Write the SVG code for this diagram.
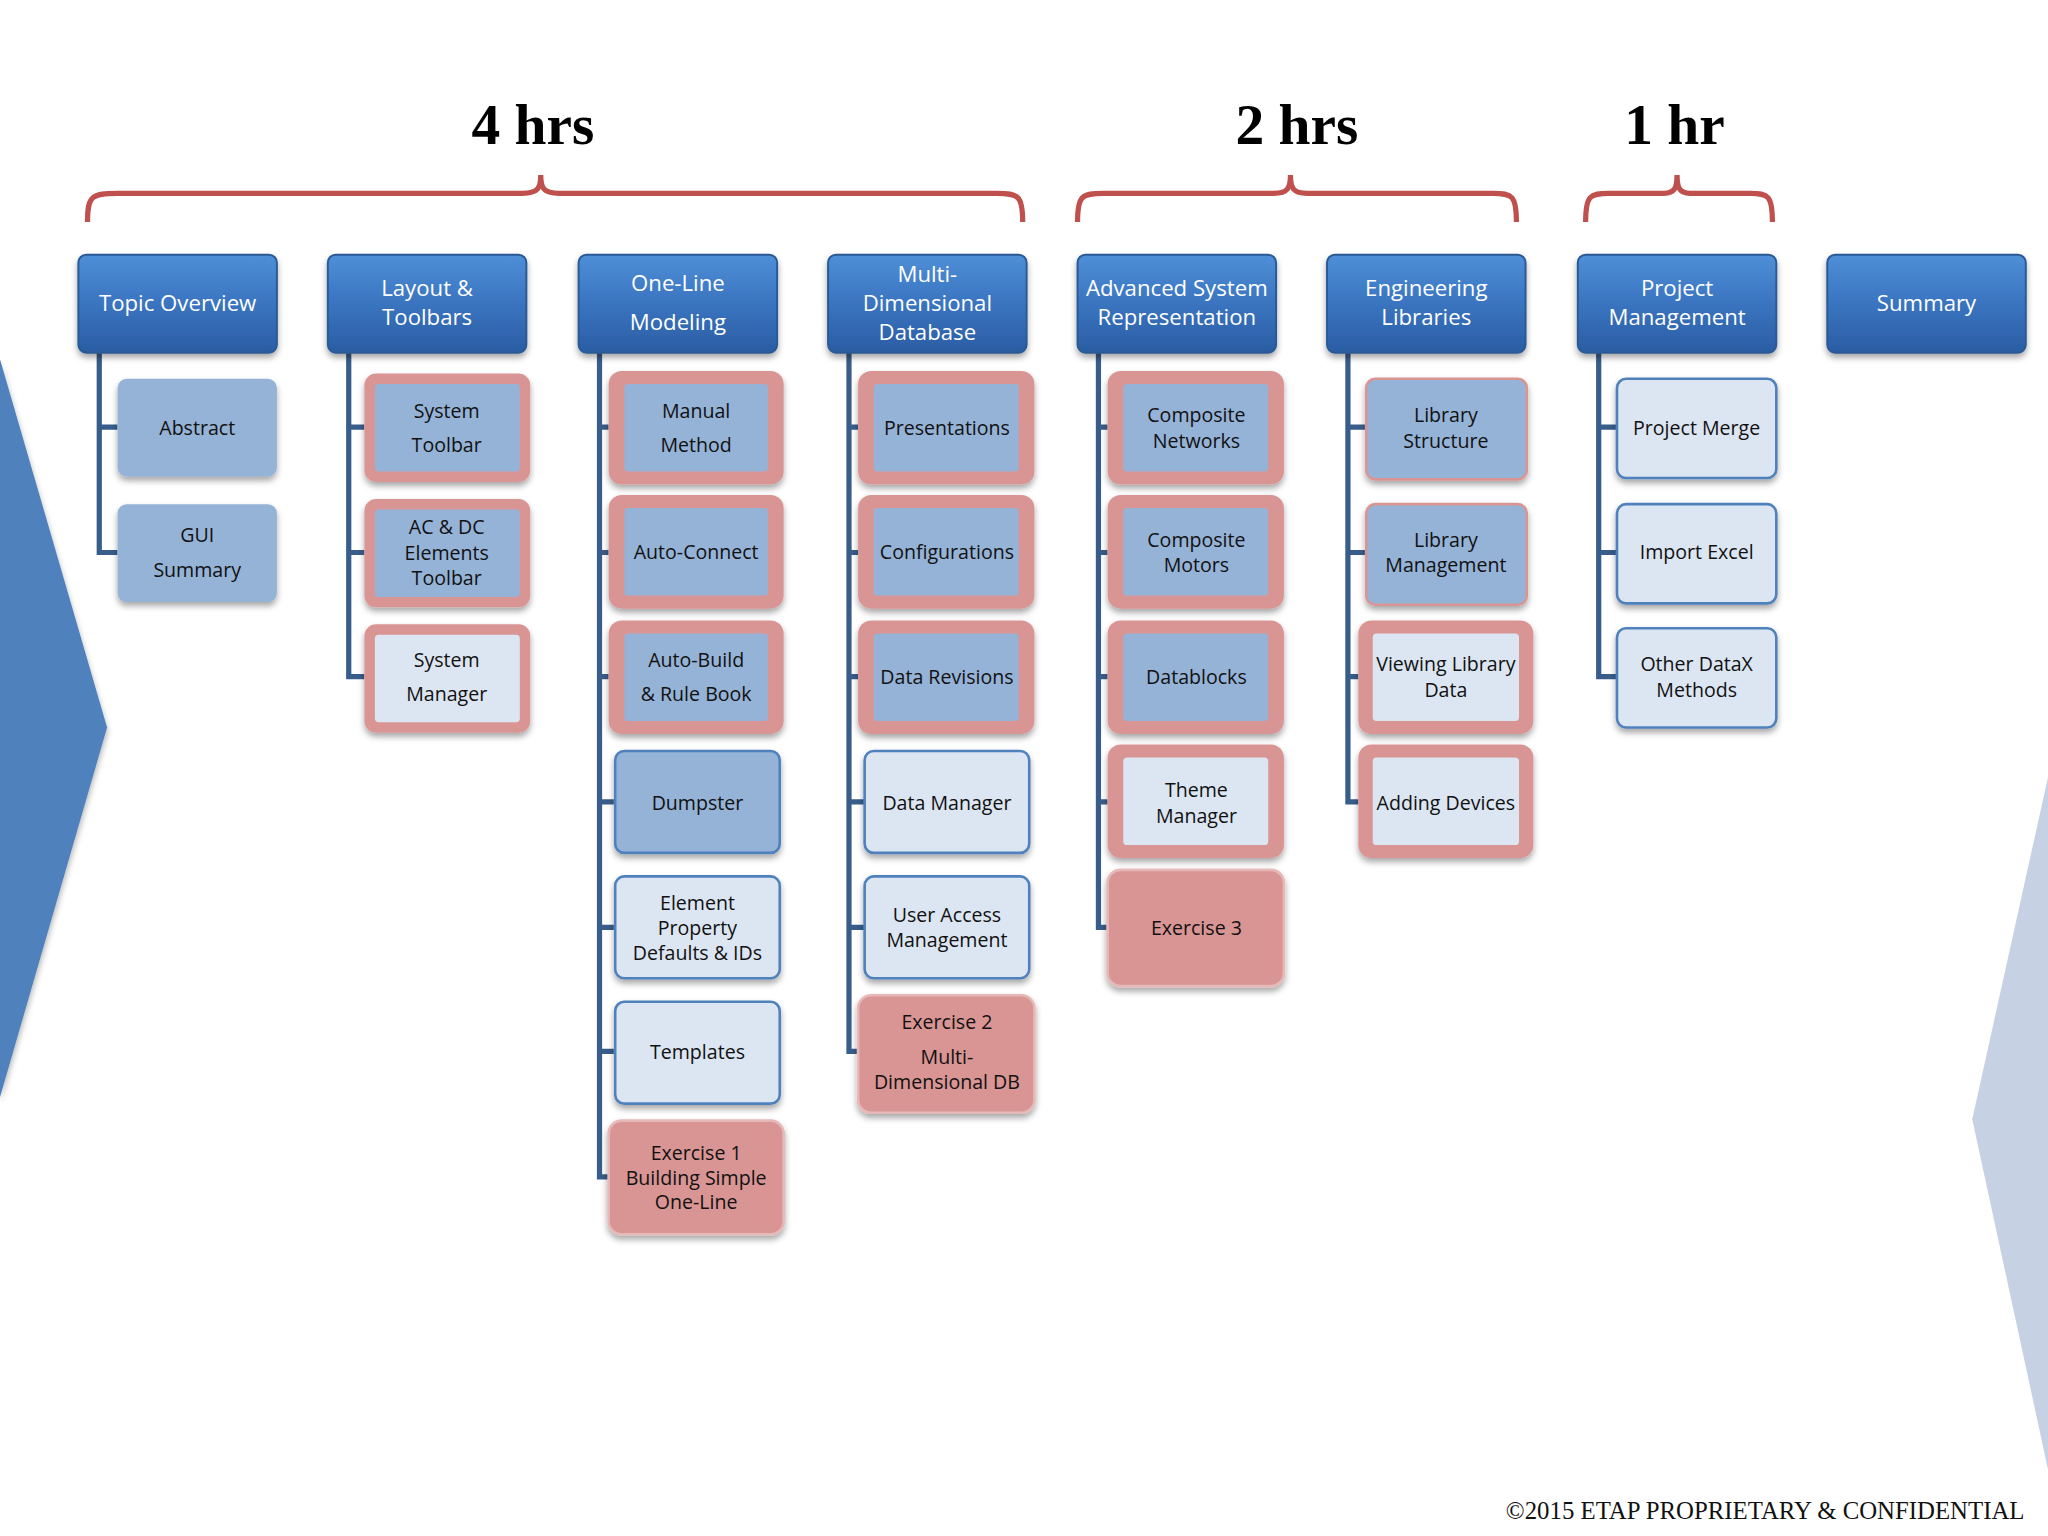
<svg xmlns="http://www.w3.org/2000/svg" width="2048" height="1536" viewBox="0 0 2048 1536">
<defs>
<linearGradient id="hg" x1="0" y1="0" x2="0" y2="1"><stop offset="0" stop-color="#4f8fd8"/><stop offset="0.5" stop-color="#3a74c0"/><stop offset="1" stop-color="#2a5da3"/></linearGradient>
<filter id="sh" x="-20%" y="-20%" width="140%" height="150%"><feDropShadow dx="0" dy="3" stdDeviation="2.5" flood-color="#000" flood-opacity="0.35"/></filter>
<style>
.hd{fill:url(#hg);stroke:#2b5a95;stroke-width:1.5;filter:url(#sh)}
.ht{font-family:"Open Sans",sans-serif;font-size:17px;fill:#fff;text-anchor:middle}
.ct{font-family:"Open Sans",sans-serif;font-size:15px;fill:#111;text-anchor:middle}
.pb{fill:#95b3d7;filter:url(#sh)}
.po{fill:#d99594;filter:url(#sh)}
.pi{fill:#95b3d7}
.pl{fill:#dce6f2}
.lb{fill:#dce6f2;stroke:#4f81bd;stroke-width:2;filter:url(#sh)}
.bb{fill:#95b3d7;stroke:#4f81bd;stroke-width:2;filter:url(#sh)}
.ex{fill:#d99594;stroke:#e6b9b8;stroke-width:2;filter:url(#sh)}
.cn{fill:none;stroke:#385d8a;stroke-width:4}
.br{fill:none;stroke:#c0504d;stroke-width:4}
.tt{font-family:"Liberation Serif",serif;font-weight:bold;font-size:44px;fill:#000;text-anchor:middle}
</style>
</defs>
<rect width="2048" height="1536" fill="#fff"/>
<g transform="scale(1.30612)">
<g id="decor">
<polygon points="0,275 82,557 0,840" fill="#4f81bd" filter="url(#sh)"/>
<polygon points="1568,595 1510,857 1568,1125" fill="#c6d2e3"/>
</g>
<g id="brackets">
<path class="br" d="M67,170 C67,150 70,148 90,148 L400,148 C412,148 414,144 414,134 C414,144 416,148 428,148 L763,148 C780,148 783,150 783,170"/>
<path class="br" d="M825,170 C825,150 828,148 845,148 L975,148 C986,148 988,144 988,134 C988,144 990,148 1001,148 L1143,148 C1158,148 1161,150 1161,170"/>
<path class="br" d="M1214,170 C1214,150 1217,148 1232,148 L1274,148 C1282,148 1284,144 1284,134 C1284,144 1286,148 1294,148 L1340,148 C1354,148 1357,150 1357,170"/>
<text class="tt" x="408" y="110">4 hrs</text>
<text class="tt" x="993" y="110">2 hrs</text>
<text class="tt" x="1282" y="110">1 hr</text>
</g>
<g id="connectors">
<path class="cn" d="M76,270 V423 H90 M76,327 H90"/>
<path class="cn" d="M267,270 V518 H279 M267,327 H279 M267,423 H279"/>
<path class="cn" d="M459,270 V901 H466 M459,327 H466 M459,423 H466 M459,518 H466 M459,614 H470 M459,710 H470 M459,805 H470"/>
<path class="cn" d="M650,270 V805 H657 M650,327 H657 M650,423 H657 M650,518 H657 M650,614 H662 M650,710 H662"/>
<path class="cn" d="M841,270 V710 H848 M841,327 H848 M841,423 H848 M841,518 H848 M841,614 H848"/>
<path class="cn" d="M1032,270 V614 H1040 M1032,327 H1046 M1032,423 H1046 M1032,518 H1040"/>
<path class="cn" d="M1224,270 V518 H1238 M1224,327 H1238 M1224,423 H1238"/>
</g>
<g id="headers">
<g id="h1"><rect class="hd" x="60" y="195" width="152" height="75" rx="6"/><text class="ht" x="136" y="238">Topic Overview</text></g>
<g id="h2"><rect class="hd" x="251" y="195" width="152" height="75" rx="6"/><text class="ht" x="327" y="227">Layout &amp;</text><text class="ht" x="327" y="249">Toolbars</text></g>
<g id="h3"><rect class="hd" x="443" y="195" width="152" height="75" rx="6"/><text class="ht" x="519" y="223">One-Line</text><text class="ht" x="519" y="253">Modeling</text></g>
<g id="h4"><rect class="hd" x="634" y="195" width="152" height="75" rx="6"/><text class="ht" x="710" y="216">Multi-</text><text class="ht" x="710" y="238">Dimensional</text><text class="ht" x="710" y="260">Database</text></g>
<g id="h5"><rect class="hd" x="825" y="195" width="152" height="75" rx="6"/><text class="ht" x="901" y="227">Advanced System</text><text class="ht" x="901" y="249">Representation</text></g>
<g id="h6"><rect class="hd" x="1016" y="195" width="152" height="75" rx="6"/><text class="ht" x="1092" y="227">Engineering</text><text class="ht" x="1092" y="249">Libraries</text></g>
<g id="h7"><rect class="hd" x="1208" y="195" width="152" height="75" rx="6"/><text class="ht" x="1284" y="227">Project</text><text class="ht" x="1284" y="249">Management</text></g>
<g id="h8"><rect class="hd" x="1399" y="195" width="152" height="75" rx="6"/><text class="ht" x="1475" y="238">Summary</text></g>
</g>
<g id="col1">
<g id="abstract"><rect class="pb" x="90" y="290" width="122" height="75" rx="7"/><text class="ct" x="151" y="333">Abstract</text></g>
<g id="gui"><rect class="pb" x="90" y="386" width="122" height="75" rx="7"/><text class="ct" x="151" y="415">GUI</text><text class="ct" x="151" y="442">Summary</text></g>
</g>
<g id="col2">
<g id="systoolbar"><rect class="po" x="279" y="286" width="127" height="83" rx="9"/><rect class="pi" x="287" y="294" width="111" height="67" rx="3"/><text class="ct" x="342" y="320">System</text><text class="ct" x="342" y="346">Toolbar</text></g>
<g id="acdc"><rect class="po" x="279" y="382" width="127" height="83" rx="9"/><rect class="pi" x="287" y="390" width="111" height="67" rx="3"/><text class="ct" x="342" y="409">AC &amp; DC</text><text class="ct" x="342" y="429">Elements</text><text class="ct" x="342" y="448">Toolbar</text></g>
<g id="sysmgr"><rect class="po" x="279" y="478" width="127" height="83" rx="9"/><rect class="pl" x="287" y="486" width="111" height="67" rx="3"/><text class="ct" x="342" y="511">System</text><text class="ct" x="342" y="537">Manager</text></g>
</g>
<g id="col3">
<g id="manual"><rect class="po" x="466" y="284" width="134" height="87" rx="10"/><rect class="pi" x="478" y="294" width="110" height="67" rx="3"/><text class="ct" x="533" y="320">Manual</text><text class="ct" x="533" y="346">Method</text></g>
<g id="autoconnect"><rect class="po" x="466" y="379" width="134" height="87" rx="10"/><rect class="pi" x="478" y="389" width="110" height="67" rx="3"/><text class="ct" x="533" y="428">Auto-Connect</text></g>
<g id="autobuild"><rect class="po" x="466" y="475" width="134" height="87" rx="10"/><rect class="pi" x="478" y="485" width="110" height="67" rx="3"/><text class="ct" x="533" y="511">Auto-Build</text><text class="ct" x="533" y="537">&amp; Rule Book</text></g>
<g id="dumpster"><rect class="bb" x="471" y="575" width="126" height="78" rx="7"/><text class="ct" x="534" y="620">Dumpster</text></g>
<g id="elemprop"><rect class="lb" x="471" y="671" width="126" height="78" rx="7"/><text class="ct" x="534" y="697">Element</text><text class="ct" x="534" y="716">Property</text><text class="ct" x="534" y="735">Defaults &amp; IDs</text></g>
<g id="templates"><rect class="lb" x="471" y="767" width="126" height="78" rx="7"/><text class="ct" x="534" y="811">Templates</text></g>
<g id="ex1"><rect class="ex" x="466" y="858" width="134" height="87" rx="10"/><text class="ct" x="533" y="888">Exercise 1</text><text class="ct" x="533" y="907">Building Simple</text><text class="ct" x="533" y="926">One-Line</text></g>
</g>
<g id="col4">
<g id="present"><rect class="po" x="657" y="284" width="135" height="87" rx="10"/><rect class="pi" x="669" y="294" width="111" height="67" rx="3"/><text class="ct" x="725" y="333">Presentations</text></g>
<g id="configs"><rect class="po" x="657" y="379" width="135" height="87" rx="10"/><rect class="pi" x="669" y="389" width="111" height="67" rx="3"/><text class="ct" x="725" y="428">Configurations</text></g>
<g id="datarev"><rect class="po" x="657" y="475" width="135" height="87" rx="10"/><rect class="pi" x="669" y="485" width="111" height="67" rx="3"/><text class="ct" x="725" y="524">Data Revisions</text></g>
<g id="datamgr"><rect class="lb" x="662" y="575" width="126" height="78" rx="7"/><text class="ct" x="725" y="620">Data Manager</text></g>
<g id="useraccess"><rect class="lb" x="662" y="671" width="126" height="78" rx="7"/><text class="ct" x="725" y="706">User Access</text><text class="ct" x="725" y="725">Management</text></g>
<g id="ex2"><rect class="ex" x="657" y="762" width="135" height="90" rx="10"/><text class="ct" x="725" y="788">Exercise 2</text><text class="ct" x="725" y="815">Multi-</text><text class="ct" x="725" y="834">Dimensional DB</text></g>
</g>
<g id="col5">
<g id="compnet"><rect class="po" x="848" y="284" width="135" height="87" rx="10"/><rect class="pi" x="860" y="294" width="111" height="67" rx="3"/><text class="ct" x="916" y="323">Composite</text><text class="ct" x="916" y="343">Networks</text></g>
<g id="compmot"><rect class="po" x="848" y="379" width="135" height="87" rx="10"/><rect class="pi" x="860" y="389" width="111" height="67" rx="3"/><text class="ct" x="916" y="419">Composite</text><text class="ct" x="916" y="438">Motors</text></g>
<g id="datablocks"><rect class="po" x="848" y="475" width="135" height="87" rx="10"/><rect class="pi" x="860" y="485" width="111" height="67" rx="3"/><text class="ct" x="916" y="524">Datablocks</text></g>
<g id="theme"><rect class="po" x="848" y="570" width="135" height="87" rx="10"/><rect class="pl" x="860" y="580" width="111" height="67" rx="3"/><text class="ct" x="916" y="610">Theme</text><text class="ct" x="916" y="630">Manager</text></g>
<g id="ex3"><rect class="ex" x="848" y="666" width="135" height="89" rx="10"/><text class="ct" x="916" y="716">Exercise 3</text></g>
</g>
<g id="col6">
<g id="libstruct"><rect class="bb" x="1046" y="290" width="123" height="77" rx="7" style="stroke:#d99594"/><text class="ct" x="1107" y="323">Library</text><text class="ct" x="1107" y="343">Structure</text></g>
<g id="libmgmt"><rect class="bb" x="1046" y="386" width="123" height="77" rx="7" style="stroke:#d99594"/><text class="ct" x="1107" y="419">Library</text><text class="ct" x="1107" y="438">Management</text></g>
<g id="viewlib"><rect class="po" x="1040" y="475" width="134" height="87" rx="10"/><rect class="pl" x="1051" y="485" width="112" height="67" rx="3"/><text class="ct" x="1107" y="514">Viewing Library</text><text class="ct" x="1107" y="534">Data</text></g>
<g id="adddev"><rect class="po" x="1040" y="570" width="134" height="87" rx="10"/><rect class="pl" x="1051" y="580" width="112" height="67" rx="3"/><text class="ct" x="1107" y="620">Adding Devices</text></g>
</g>
<g id="col7">
<g id="merge"><rect class="lb" x="1238" y="290" width="122" height="76" rx="7"/><text class="ct" x="1299" y="333">Project Merge</text></g>
<g id="importxl"><rect class="lb" x="1238" y="386" width="122" height="76" rx="7"/><text class="ct" x="1299" y="428">Import Excel</text></g>
<g id="otherdatax"><rect class="lb" x="1238" y="481" width="122" height="76" rx="7"/><text class="ct" x="1299" y="514">Other DataX</text><text class="ct" x="1299" y="534">Methods</text></g>
</g>
<text x="1550" y="1163" font-family="Liberation Serif, serif" font-size="19" text-anchor="end" fill="#111">©2015 ETAP PROPRIETARY &amp; CONFIDENTIAL</text>
</g>
</svg>
